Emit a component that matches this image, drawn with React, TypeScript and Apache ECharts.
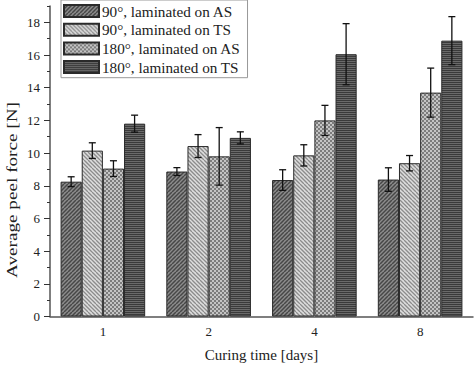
import React, { useEffect, useRef } from "react";
import * as echarts from "echarts";

const categories = ["1", "2", "4", "8"];
const seriesNames = [
  "90°, laminated on AS",
  "90°, laminated on TS",
  "180°, laminated on AS",
  "180°, laminated on TS",
];
const values90AS = [8.25, 8.87, 8.35, 8.38];
const errors90AS = [0.3, 0.24, 0.63, 0.72];
const values90TS = [10.15, 10.43, 9.86, 9.38];
const errors90TS = [0.48, 0.7, 0.65, 0.47];
const values180AS = [9.05, 9.8, 12.0, 13.7];
const errors180AS = [0.48, 1.76, 0.92, 1.5];
const values180TS = [11.8, 10.93, 16.05, 16.88];
const errors180TS = [0.52, 0.37, 1.87, 1.47];
const yMajorTicks = [0, 2, 4, 6, 8, 10, 12, 14, 16, 18];

const allValues = [values90AS, values90TS, values180AS, values180TS];
const allErrors = [errors90AS, errors90TS, errors180AS, errors180TS];

function makePattern(kind: number): HTMLCanvasElement {
  const c = document.createElement("canvas");
  const s = 8;
  c.width = s;
  c.height = s;
  const ctx = c.getContext("2d")!;
  if (kind === 0) {
    ctx.fillStyle = "#8c8c8c";
    ctx.fillRect(0, 0, s, s);
    ctx.strokeStyle = "#474747";
    ctx.lineWidth = 1.5;
    for (let x = -8; x <= 16; x += 4) {
      ctx.beginPath();
      ctx.moveTo(x, s);
      ctx.lineTo(x + s, 0);
      ctx.stroke();
    }
  } else if (kind === 1) {
    ctx.fillStyle = "#dedede";
    ctx.fillRect(0, 0, s, s);
    ctx.strokeStyle = "#8c8c8c";
    ctx.lineWidth = 1.3;
    for (let x = -8; x <= 16; x += 4) {
      ctx.beginPath();
      ctx.moveTo(x, 0);
      ctx.lineTo(x + s, s);
      ctx.stroke();
    }
  } else if (kind === 2) {
    for (let i = 0; i < 4; i++) {
      for (let j = 0; j < 4; j++) {
        ctx.fillStyle = (i + j) % 2 === 0 ? "#c4c4c4" : "#7c7c7c";
        ctx.fillRect(i * 2, j * 2, 2, 2);
      }
    }
  } else {
    ctx.fillStyle = "#6a6a6a";
    ctx.fillRect(0, 0, s, s);
    ctx.fillStyle = "#3a3a3a";
    for (let y = 0; y < s; y += 2) {
      ctx.fillRect(0, y, s, 1);
    }
  }
  return c;
}

export default function App() {
  const ref = useRef<HTMLDivElement>(null);
  useEffect(() => {
    if (!ref.current) return;
    const chart = echarts.init(ref.current, null, { renderer: "svg" });
    const font = "Liberation Serif";
    const textColor = "#222";
    const axisColor = "#555";

    const barSeries = seriesNames.map((name, i) => ({
      name,
      type: "bar",
      data: allValues[i],
      barGap: "0%",
      barCategoryGap: "20%",
      itemStyle: {
        color: { image: makePattern(i), repeat: "repeat" },
        borderColor: "#2a2a2a",
        borderWidth: 1,
      },
    }));

    const errData: number[][] = [];
    allValues.forEach((vals, s) => {
      vals.forEach((v, c) => {
        errData.push([c, v, allErrors[s][c], s]);
      });
    });

    const option: any = {
      animation: false,
      backgroundColor: "#fff",
      textStyle: { fontFamily: font },
      grid: {
        left: 50,
        right: 1,
        top: 6,
        bottom: 49.5,
        containLabel: false,
        outerBoundsMode: "none",
      },
      legend: {
        data: seriesNames,
        orient: "vertical",
        left: 61,
        top: 0,
        itemWidth: 35,
        itemHeight: 12,
        itemGap: 2.7,
        padding: [3, 7, 2.6, 2],
        borderColor: "#999",
        borderWidth: 1,
        backgroundColor: "#fff",
        icon: "rect",
        textStyle: {
          fontFamily: font,
          fontSize: 15.2,
          lineHeight: 16,
          color: textColor,
          padding: [0, 0, 0, -2],
        },
      },
      xAxis: {
        type: "category",
        data: categories,
        name: "Curing time [days]",
        nameLocation: "middle",
        nameGap: 31,
        nameTextStyle: { fontFamily: font, fontSize: 15, color: textColor },
        axisLine: { lineStyle: { color: axisColor, width: 1.5 } },
        axisTick: { alignWithLabel: true, length: 5, lineStyle: { color: "#333", width: 1 } },
        axisLabel: { fontFamily: font, fontSize: 13, color: textColor, margin: 8 },
      },
      yAxis: [
        {
          type: "value",
          min: 0,
          max: 19,
          interval: 1,
          axisLine: { show: true, lineStyle: { color: axisColor, width: 1.5 } },
          axisTick: {
            show: true,
            length: 6,
            customValues: yMajorTicks,
            lineStyle: { color: "#333", width: 1 },
          },
          axisLabel: {
            fontFamily: font,
            fontSize: 13,
            color: textColor,
            margin: 10,
            customValues: yMajorTicks,
            formatter: (v: number) => (v % 2 === 0 && v <= 18 ? String(v) : ""),
          },
          splitLine: { show: false },
        },
        {
          type: "value",
          min: 0,
          max: 19,
          interval: 1,
          position: "left",
          axisLine: { show: false },
          axisTick: { show: true, length: 3, lineStyle: { color: "#333", width: 1 } },
          axisLabel: { show: false },
          splitLine: { show: false },
        },
      ],
      graphic: [
        {
          type: "text",
          x: 12,
          y: 190,
          rotation: Math.PI / 2,
          scaleX: 1.28,
          style: {
            text: "Average peel force [N]",
            fontFamily: font,
            fontSize: 15,
            fill: textColor,
            align: "center",
            verticalAlign: "middle",
          },
        },
      ],
      series: [
        ...barSeries,
        {
          type: "custom",
          name: "errors",
          z: 10,
          data: errData,
          encode: { x: 0, y: 1 },
          renderItem: (params: any, api: any) => {
            const c = api.value(0);
            const v = api.value(1);
            const e = api.value(2);
            const s = api.value(3);
            const band = api.size([1, 0])[0];
            const center = api.coord([c, v]);
            const barW = (band * 0.8) / 4;
            const x = center[0] - band * 0.4 + (s + 0.5) * barW;
            const top = api.coord([c, v + e])[1];
            const bot = api.coord([c, v - e])[1];
            const hw = 3.5;
            const st = { stroke: "#111", lineWidth: 1.3 };
            return {
              type: "group",
              children: [
                { type: "line", shape: { x1: x, y1: top, x2: x, y2: bot }, style: st },
                { type: "line", shape: { x1: x - hw, y1: top, x2: x + hw, y2: top }, style: st },
                { type: "line", shape: { x1: x - hw, y1: bot, x2: x + hw, y2: bot }, style: st },
              ],
            };
          },
        },
      ],
    };
    chart.setOption(option);
    return () => chart.dispose();
  }, []);
  return (
    <div
      ref={ref}
      style={{ position: "fixed", left: 0, top: 0, width: 474, height: 366 }}
    />
  );
}
